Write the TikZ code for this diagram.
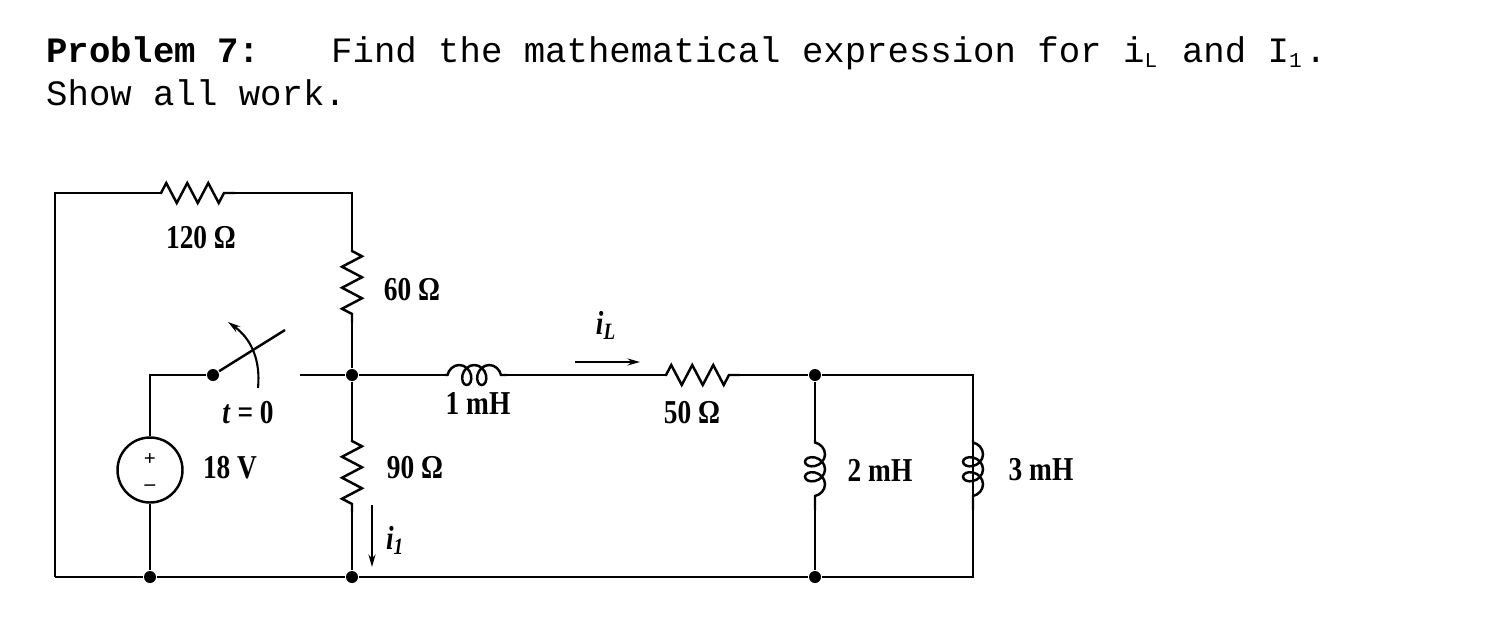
\documentclass[tikz,border=0pt]{standalone}
\usepackage{fontspec}
\setmainfont{Liberation Serif}
\newfontfamily\mono{Liberation Mono}
\usetikzlibrary{decorations.pathmorphing,arrows.meta}
\newcommand\subch[1]{\makebox[0.45em][l]{\raisebox{-0.15em}{\fontsize{12}{12}\selectfont #1}}}
\begin{document}
\begin{tikzpicture}[x=0.02cm,y=-0.02cm,line width=1.4pt,
  res/.style={decorate,decoration={zigzag,segment length=0.42cm,amplitude=0.2cm,pre length=0.02cm,post length=0.02cm}},
  ind/.style={decorate,decoration={coil,aspect=0.8,segment length=0.3cm,amplitude=0.2cm,pre length=0.05cm,post length=0.05cm}},
  dot/.style={circle,fill,inner sep=0pt,minimum size=0.24cm},
  lab/.style={font=\fontsize{19}{20}\selectfont\bfseries,xscale=0.82,inner sep=0pt},
  ttl/.style={font=\mono\fontsize{20.3}{22}\selectfont,anchor=base west,inner sep=0pt},
  arr/.style={-{Stealth[length=0.25cm,width=0.14cm]},line width=1.2pt}]
\useasboundingbox (0,0) rectangle (1503,623);
% title
\node[ttl] (t1) at (45,62) {\bfseries Problem 7:};
\node[ttl] (t2) at (330,62) {Find the mathematical expression for i\subch{L} and I\subch{1}.};
\node[ttl] (t3) at (45,105) {Show all work.};
% coordinates
\coordinate (TL) at (55,193); \coordinate (TR) at (352,193);
\coordinate (BL) at (55,577);
\node[dot] (B1) at (150,577) {}; \node[dot] (B2) at (352,577) {}; \node[dot] (B3) at (815,577) {};
\coordinate (BR) at (973,577);
\node[dot] (M) at (352,375) {}; \node[dot] (N) at (815,375) {};
\coordinate (NR) at (973,375);
\node[dot] (SW) at (213,375) {};
\coordinate (SC) at (300,375);
% outer loop
\draw (BL) -- (TL) -- (160,193);
\draw[res] (160,193) -- (235,193);
\draw (235,193) -- (TR) -- (352,250);
\draw[res] (352,250) -- (352,322);
\draw (352,322) -- (M);
\draw (M) -- (352,440);
\draw[res] (352,440) -- (352,512);
\draw (352,512) -- (B2);
\draw (BL) -- (B1) -- (B2) -- (B3) -- (BR) -- (NR) -- (N);
% source
\node[draw,circle,minimum size=1.3cm,inner sep=0pt] (V) at (150,470) {};
\node[font=\bfseries\large,inner sep=0pt] at (150,460) {+};
\node[font=\bfseries\large,inner sep=0pt] at (150,488) {--};
\draw (B1) -- (V.south); \draw (V.north) -- (150,375) -- (SW);
\draw (SW) -- (285,330);
\draw[arr] (258,388) to[bend right=30] (228,322);
\draw (SC) -- (M);
% middle branch
\draw (M) -- (445,375);
\draw[ind] (445,375) -- (507,375);
\draw (507,375) -- (665,375);
\draw[res] (665,375) -- (740,375);
\draw (740,375) -- (N);
% parallel inductors
\draw (N) -- (815,440); \draw[ind] (815,440) -- (815,510); \draw (815,510) -- (B3);
\draw (NR) -- (973,440); \draw[ind] (973,440) -- (973,510); \draw (973,510) -- (BR);
% arrows
\draw[arr] (575,362) -- (640,362);
\draw[arr] (372,505) -- (372,567);
% labels
\node[lab] at (201,238) {120 Ω};
\node[lab] at (412,290) {60 Ω};
\node[lab] at (415,468) {90 Ω};
\node[lab] at (478,403) {1 mH};
\node[lab] at (692,413) {50 Ω};
\node[lab] at (880,470) {2 mH};
\node[lab] at (1041,470) {3 mH};
\node[lab] at (230,468) {18 V};
\node[lab] at (248,413) {\textit{t} = 0};
\node[lab] at (606,325) {\textit{i\textsubscript{L}}};
\node[lab] at (395,540) {\textit{i\textsubscript{1}}};
\end{tikzpicture}
\end{document}
